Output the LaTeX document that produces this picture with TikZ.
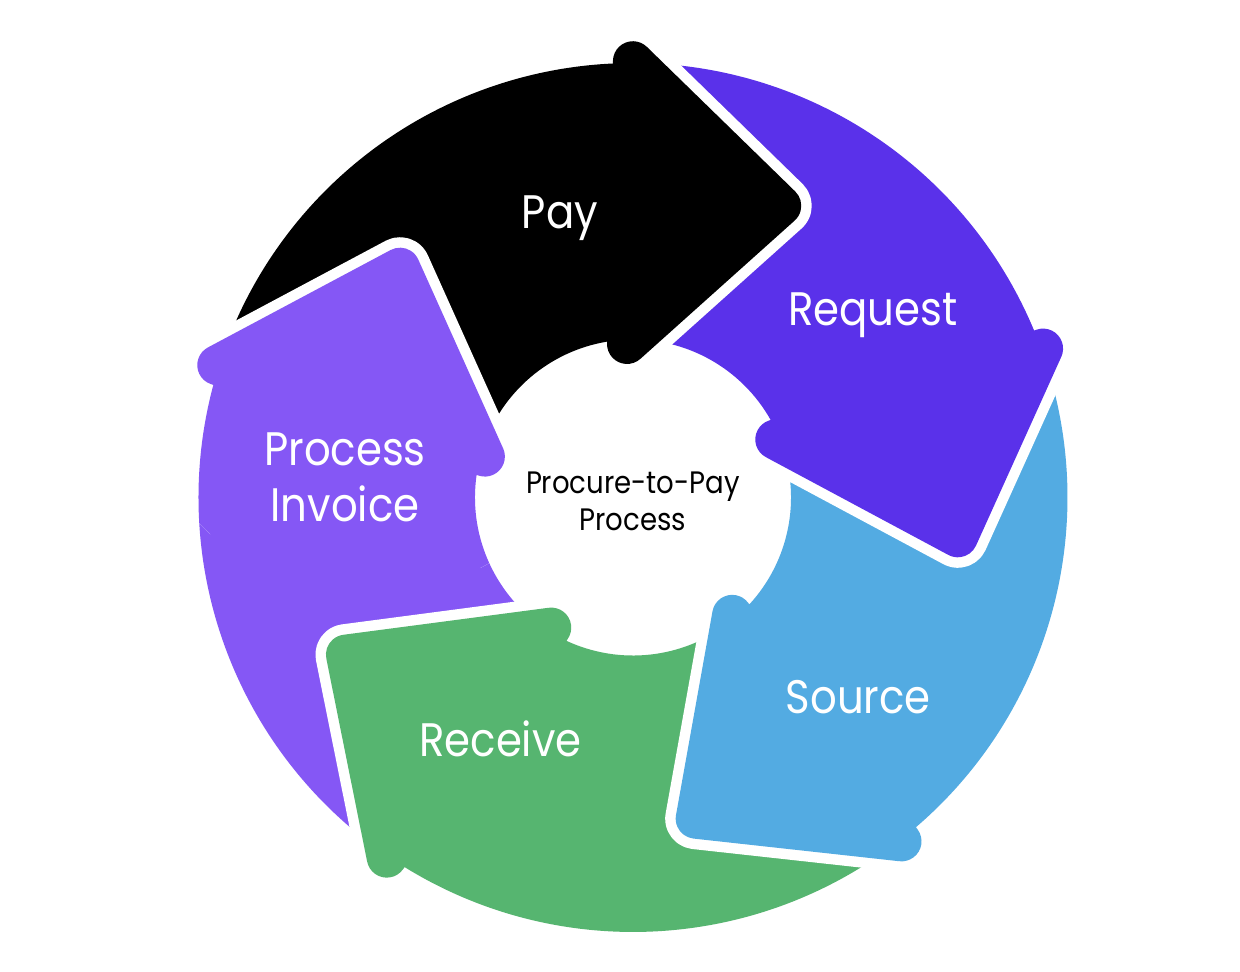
\documentclass[tikz,border=0pt]{standalone}
\usepackage{fontspec}
\setmainfont{Poppins}[FakeStretch=0.89]
\definecolor{cPay}{HTML}{000000}
\definecolor{cRequest}{HTML}{5A31EA}
\definecolor{cSource}{HTML}{53ABE2}
\definecolor{cReceive}{HTML}{56B570}
\definecolor{cInvoice}{HTML}{8557F5}
\newcommand\segdraw[1]{%
  \path[fill=#1, preaction={draw=white, line width=21pt, line join=round}]
    (163:434.5) arc[start angle=163, end angle=93.855, radius=434.5]
    -- (-29.2,436.2) arc[start angle=180, end angle=46.9, radius=20]
    -- (155.77,309.41) arc[start angle=46.93, end angle=-46.93, radius=20]
    -- (4.48,138.78) arc[start angle=-46.9, end angle=-180, radius=20]
    -- (-29.2,155.3) arc[start angle=100.64, end angle=163, radius=158]
    -- cycle;}
\tikzset{
  lbl/.style={text=white, anchor=base, inner sep=0pt, font=\fontsize{47}{56}\selectfont},
  ctr/.style={text=black, anchor=base, inner sep=0pt, font=\fontsize{31}{37}\selectfont}
}
\begin{document}
\begin{tikzpicture}[x=1pt, y=1pt]
  \useasboundingbox (-633,-474.5) rectangle (607,497.5);
  \fill[white] (-633,-474.5) rectangle (607,497.5);
  % segments, each head drawn over the next one's tail
  \begin{scope}[rotate=71.13]\segdraw{cInvoice}\end{scope}
  \begin{scope}[rotate=-215.57]\segdraw{cReceive}\end{scope}
  \begin{scope}[rotate=-143.22]\segdraw{cSource}\end{scope}
  \begin{scope}[rotate=-71.25]\segdraw{cRequest}\end{scope}
  \begin{scope}[rotate=-1.2]\segdraw{cPay}\end{scope}
  % head of Process Invoice over the tail of Pay
  \begin{scope}[rotate=71.13]
    \clip (50,295) circle[radius=240];
    \segdraw{cInvoice}
  \end{scope}
  % labels
  \node[lbl] (pay) at (-73,269.2) {Pay};
  \node[lbl] (request) at (240,171.8) {Request};
  \node[lbl] (source) at (225.3,-215.8) {Source};
  \node[lbl] (receive) at (-132.5,-258.5) {Receive};
  \node[lbl] (invoice1) at (-288,31.8) {Process};
  \node[lbl] (invoice2) at (-288,-24.2) {Invoice};
  \node[ctr] (center1) at (0,4.2) {Procure-to-Pay};
  \node[ctr] (center2) at (0,-33.2) {Process};
\end{tikzpicture}
\end{document}
